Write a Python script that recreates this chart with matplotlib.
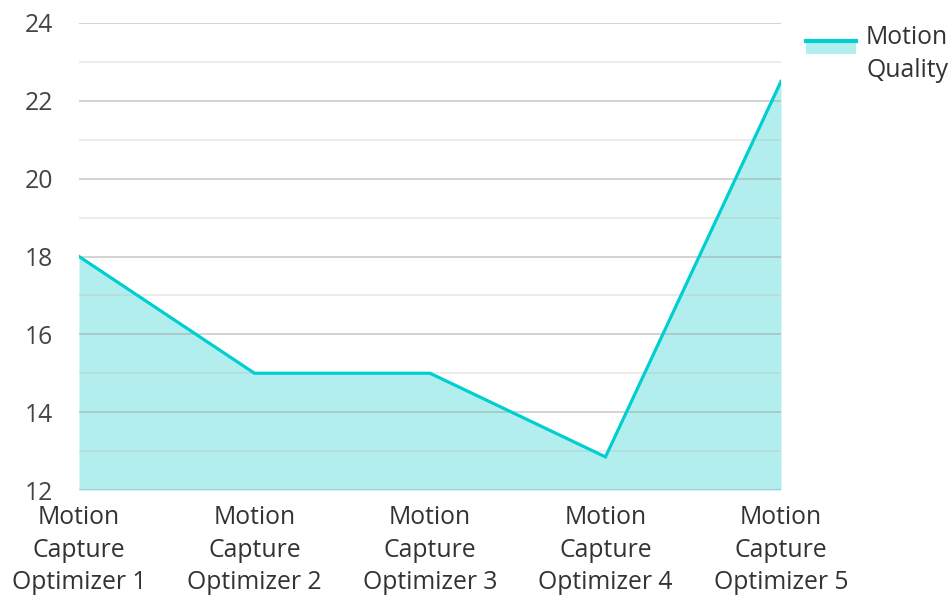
import matplotlib.pyplot as plt
from matplotlib.lines import Line2D
from matplotlib.patches import Rectangle
from matplotlib.ticker import MultipleLocator

plt.rcParams['font.family'] = ['Open Sans', 'DejaVu Sans']

# data
categories = ['Motion\nCapture\nOptimizer 1', 'Motion\nCapture\nOptimizer 2',
              'Motion\nCapture\nOptimizer 3', 'Motion\nCapture\nOptimizer 4',
              'Motion\nCapture\nOptimizer 5']
quality = [18, 15, 15, 12.85, 22.5]
series_name = 'Motion\nQuality'

line_color = '#00cfd1'
fill_color = '#b2eeee'
fs = 17.8


class FillLineHandler:
    # legend key: line on top of a filled strip, level with the first text line
    def legend_artist(self, legend, orig_handle, fontsize, handlebox):
        x0, y0 = handlebox.xdescent, handlebox.ydescent
        w, h = handlebox.width, handlebox.height
        tr = handlebox.get_transform()
        yc = y0 + h * 0.5 + 10
        rect = Rectangle((x0, yc - 9), w, 9, facecolor=fill_color,
                         edgecolor='none', transform=tr)
        ln = Line2D([x0, x0 + w], [yc, yc], color=line_color, lw=3, transform=tr)
        handlebox.add_artist(rect)
        handlebox.add_artist(ln)
        return rect


fig = plt.figure(figsize=(9.51, 5.97), dpi=100)
ax = fig.add_axes([79 / 951, 1 - 490 / 597, (781 - 79) / 951, (490 - 23) / 597])

x = list(range(len(categories)))
ax.fill_between(x, quality, 12, color=fill_color, lw=0, zorder=1)
ax.plot(x, quality, color=line_color, lw=2.3, zorder=3, solid_joinstyle='miter')

ax.set_xlim(0, len(categories) - 1)
ax.set_ylim(12, 24)
ax.yaxis.set_major_locator(MultipleLocator(2))
ax.yaxis.set_minor_locator(MultipleLocator(1))
ax.grid(axis='y', which='major', color='#999999', alpha=0.5, lw=1.2, zorder=2)
ax.grid(axis='y', which='minor', color='#bbbbbb', alpha=0.35, lw=1.2, zorder=2)
ax.set_axisbelow(False)
for s in ax.spines.values():
    s.set_visible(False)

ax.set_xticks(x)
ax.set_xticklabels(categories, fontsize=fs, color='#333333', linespacing=1.4)
ax.tick_params(axis='x', length=0, pad=11)
ax.tick_params(axis='y', which='both', length=0, pad=18.5, labelsize=fs, labelcolor='#444444')

fig.legend([object()], [series_name], handler_map={object: FillLineHandler()},
           loc='upper left', bbox_to_anchor=(806 / 951, 1 - 25 / 597),
           frameon=False, fontsize=fs, handlelength=2.03, handletextpad=0.4,
           labelcolor='#333333', borderpad=0, borderaxespad=0)
fig.legends[0].get_texts()[0].set_linespacing(1.44)

fig.savefig('out.png', dpi=100)
